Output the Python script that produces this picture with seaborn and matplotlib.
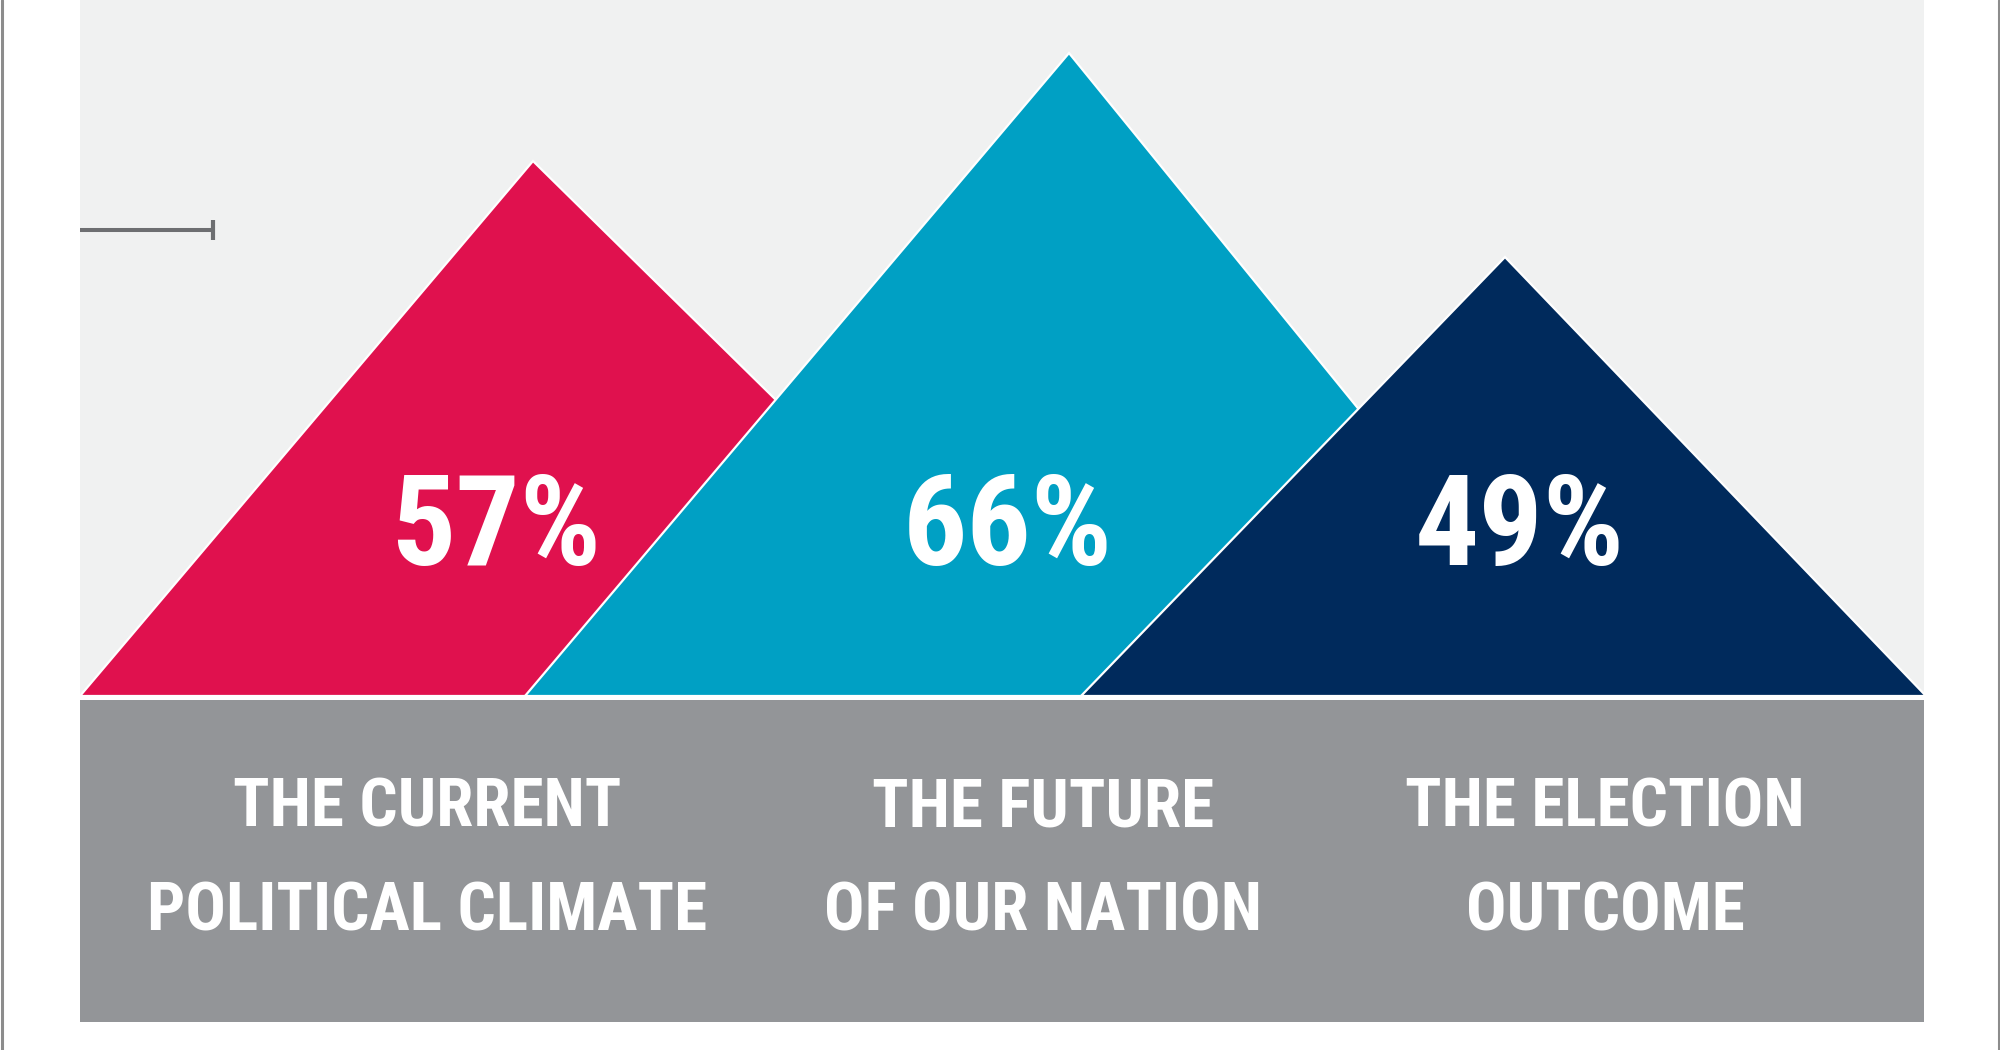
import os
import matplotlib
matplotlib.use("Agg")
import matplotlib.pyplot as plt
from matplotlib import font_manager
from matplotlib.font_manager import FontProperties
from matplotlib.lines import Line2D
import seaborn as sns

# Data
topics_top = ["THE CURRENT", "THE FUTURE", "THE ELECTION"]
topics_bottom = ["POLITICAL CLIMATE", "OF OUR NATION", "OUTCOME"]
shares = [57, 66, 49]
share_labels = ["57%", "66%", "49%"]
guide_level = 51.25

# Layout (x in panel pixels from the left edge of the panel)
peak_x = [453, 989, 1425]
left_foot = [0, 445, 1001]
right_foot = [997, 1512, 1846]
share_x = [416, 928, 1440]
topic_x = [347, 963, 1525]
base = 12.42
px_per_unit = 12.0

colors = sns.color_palette(["#E0114E", "#00A0C4", "#002A5C"])
panel_bg = "#F0F1F1"
band_gray = "#939598"

sns.set_style("white")
plt.rcParams["font.family"] = ["DejaVu Sans"]

# a condensed bold face if a known one is installed, else Roboto bold
wanted = ["LiberationSansNarrow-Bold.ttf", "NotoSans-CondensedBold.ttf",
          "RobotoCondensed-Bold.ttf", "DejaVuSansCondensed-Bold.ttf"]
paths = {os.path.basename(f.fname): f.fname for f in font_manager.fontManager.ttflist}
narrow = next((paths[n] for n in wanted if n in paths), None)
installed = {f.name for f in font_manager.fontManager.ttflist}


def fp(size):
    if narrow:
        return FontProperties(fname=narrow, size=size)
    fam = "Roboto" if "Roboto" in installed else "DejaVu Sans"
    return FontProperties(family=fam, weight="bold", size=size)


W, H = 2000, 1050
fig = plt.figure(figsize=(20, 10.5), dpi=100)
fig.patch.set_facecolor("white")
renderer = fig.canvas.get_renderer()


def fit_size(sample, target_px, max_pt):
    t = fig.text(0, 0, sample, fontproperties=fp(50))
    w = t.get_window_extent(renderer).width
    t.remove()
    return min(50 * target_px / w, max_pt)


pct_size = fit_size("66%", 210, 98)
topic_size = fit_size("POLITICAL CLIMATE", 560, 60)

# main panel with the peaks
ax = fig.add_axes([80 / W, 1 - 696 / H, 1844 / W, 696 / H])
ax.set_facecolor(panel_bg)
ax.set_xlim(0, 1844)
ax.set_ylim(base, base + 696 / px_per_unit)

for i, v in enumerate(shares):
    ax.fill([left_foot[i], peak_x[i], right_foot[i]], [base, v, base],
            color=colors[i], edgecolor="white", linewidth=1.6, zorder=2 + i)
    ax.text(share_x[i], 0.188, share_labels[i], transform=ax.get_xaxis_transform(),
            ha="center", va="baseline", color="white", fontproperties=fp(pct_size),
            zorder=10)

ax.plot([0, 133], [guide_level, guide_level], color="#6D6E71", lw=2.9,
        solid_capstyle="butt", zorder=1)
ax.plot([133], [guide_level], marker="|", ms=15, mew=3, color="#6D6E71", zorder=1)

ax.set_xticks([])
ax.set_yticks([])
sns.despine(ax=ax, left=True, bottom=True)

# grey band with the topics
band = fig.add_axes([80 / W, 1 - 1022 / H, 1844 / W, 322 / H])
band.set_facecolor(band_gray)
band.set_xlim(0, 1844)
band.set_ylim(0, 1)
for i in range(len(topics_top)):
    band.text(topic_x[i], 0.606, topics_top[i], ha="center", va="baseline",
              color="white", fontproperties=fp(topic_size))
    band.text(topic_x[i], 0.283, topics_bottom[i], ha="center", va="baseline",
              color="white", fontproperties=fp(topic_size))
band.set_xticks([])
band.set_yticks([])
sns.despine(ax=band, left=True, bottom=True)

# thin frame lines at the page edges
for x in (1.5 / W, 1 - 1.5 / W):
    fig.add_artist(Line2D([x, x], [0, 1], transform=fig.transFigure,
                          color="#8C8C8C", lw=2.2))

fig.savefig("out.png", dpi=100, facecolor="white")
